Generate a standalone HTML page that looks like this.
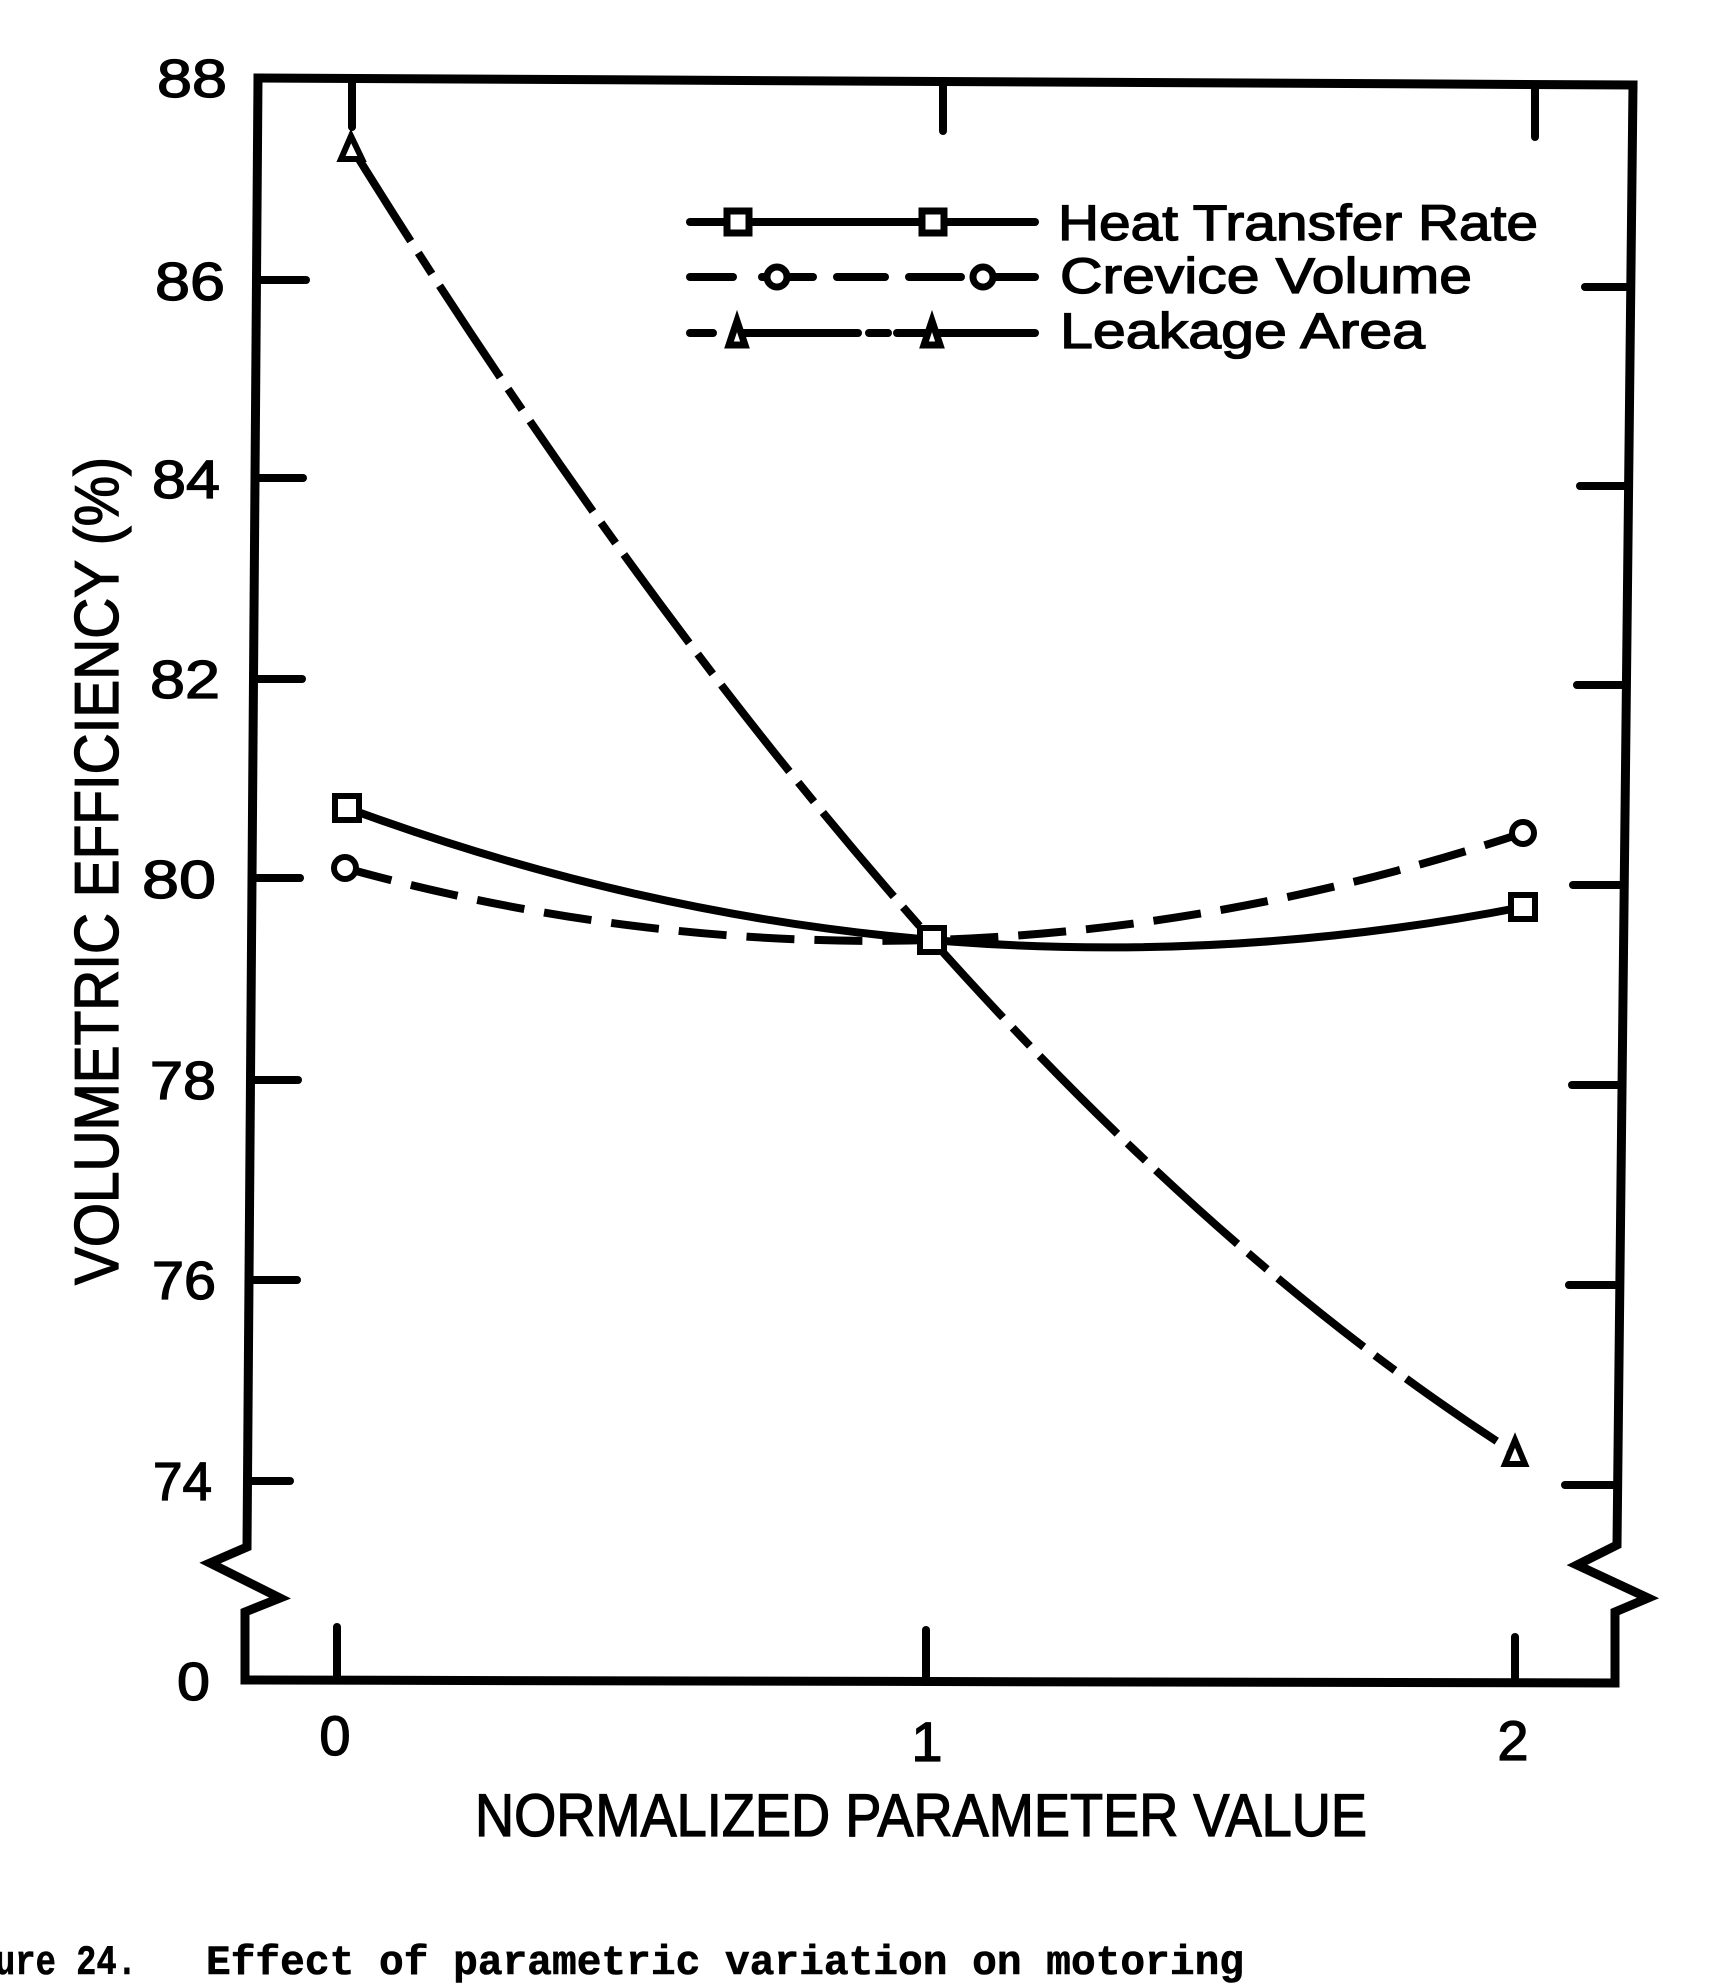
<!DOCTYPE html>
<html>
<head>
<meta charset="utf-8">
<style>
  html, body { margin:0; padding:0; background:#fff; }
  svg { display:block; }
  .t { font-family:"Liberation Sans", "DejaVu Sans", sans-serif; fill:#000; stroke:#000; stroke-width:1.3; }
  .cap { font-family:"Liberation Mono", "DejaVu Sans Mono", monospace; font-weight:bold; fill:#000; stroke:#000; stroke-width:0.6; white-space:pre; }
</style>
</head>
<body>
<svg width="1709" height="1987" viewBox="0 0 1709 1987" xmlns="http://www.w3.org/2000/svg">
  <rect x="0" y="0" width="1709" height="1987" fill="#fff"/>

  <!-- Axes frame -->
  <g stroke="#000" stroke-width="9" fill="none" stroke-linecap="square" stroke-linejoin="miter">
    <line x1="258" y1="78" x2="1633" y2="85"/>
    <polyline points="258,78 247,1547 210,1563 280,1598 245,1612 245,1680 1615,1683 1615,1612 1648,1598 1577,1565 1617,1545 1633,85"/>
  </g>

  <!-- Ticks -->
  <g stroke="#000" stroke-width="8" stroke-linecap="round" fill="none">
    <line x1="352" y1="78" x2="352" y2="127"/>
    <line x1="943" y1="82" x2="943" y2="131"/>
    <line x1="1535" y1="85" x2="1535" y2="137"/>
    <line x1="337" y1="1680" x2="337" y2="1627"/>
    <line x1="926" y1="1682" x2="926" y2="1630"/>
    <line x1="1515" y1="1683" x2="1515" y2="1637"/>
    <line x1="256" y1="280" x2="306" y2="280"/>
    <line x1="255" y1="478" x2="303" y2="478"/>
    <line x1="253" y1="679" x2="302" y2="679"/>
    <line x1="252" y1="878" x2="300" y2="878"/>
    <line x1="250" y1="1080" x2="298" y2="1080"/>
    <line x1="249" y1="1280" x2="297" y2="1280"/>
    <line x1="247" y1="1481" x2="290" y2="1481"/>
    <line x1="1631" y1="287" x2="1585" y2="287"/>
    <line x1="1629" y1="486" x2="1580" y2="486"/>
    <line x1="1626" y1="685" x2="1577" y2="685"/>
    <line x1="1624" y1="885" x2="1573" y2="885"/>
    <line x1="1622" y1="1085" x2="1572" y2="1085"/>
    <line x1="1620" y1="1285" x2="1569" y2="1285"/>
    <line x1="1617" y1="1485" x2="1565" y2="1485"/>
  </g>

  <!-- Y tick labels -->
  <g class="t" font-size="54">
    <text x="157" y="97" textLength="70" lengthAdjust="spacingAndGlyphs">88</text>
    <text x="155" y="300" textLength="70" lengthAdjust="spacingAndGlyphs">86</text>
    <text x="152" y="498" textLength="68" lengthAdjust="spacingAndGlyphs">84</text>
    <text x="150" y="698" textLength="70" lengthAdjust="spacingAndGlyphs">82</text>
    <text x="142" y="898" textLength="74" lengthAdjust="spacingAndGlyphs">80</text>
    <text x="150" y="1099" textLength="66" lengthAdjust="spacingAndGlyphs">78</text>
    <text x="152" y="1299" textLength="64" lengthAdjust="spacingAndGlyphs">76</text>
    <text x="153" y="1500" textLength="59" lengthAdjust="spacingAndGlyphs">74</text>
    <text x="177" y="1700" textLength="33" lengthAdjust="spacingAndGlyphs">0</text>
  </g>

  <!-- X tick labels -->
  <g class="t" font-size="56" text-anchor="middle">
    <text x="335" y="1755">0</text>
    <text x="927" y="1761">1</text>
    <text x="1513" y="1760">2</text>
  </g>

  <!-- Axis titles -->
  <text class="t" x="475" y="1836" font-size="60" textLength="892" lengthAdjust="spacingAndGlyphs">NORMALIZED PARAMETER VALUE</text>
  <text class="t" transform="translate(118,871) rotate(-90)" text-anchor="middle" font-size="62" textLength="828" lengthAdjust="spacingAndGlyphs">VOLUMETRIC EFFICIENCY (%)</text>

  <!-- Data curves -->
  <g fill="none" stroke="#000" stroke-width="8">
    <path d="M347,808 Q929,1022.5 1523,907"/>
    <path d="M345,868 Q930,1029.5 1523,833" stroke-dasharray="48 20"/>
    <path d="M352,148 Q930.5,1079.5 1515,1453" stroke-dasharray="110 14 25 14"/>
  </g>

  <!-- Data markers -->
  <g fill="#fff" stroke="#000" stroke-width="6">
    <rect x="335" y="796" width="24" height="24"/>
    <rect x="1511" y="895" width="24" height="24"/>
    <circle cx="345" cy="868" r="11"/>
    <circle cx="1523" cy="833" r="11"/>
    <polygon points="351,136 341,159 362,159"/>
    <polygon points="1515,1440 1505,1464 1525,1464"/>
    <rect x="920" y="928" width="24" height="24"/>
  </g>

  <!-- Legend lines -->
  <g fill="none" stroke="#000" stroke-width="8" stroke-linecap="round">
    <line x1="690" y1="222" x2="1035" y2="222"/>
    <line x1="690" y1="277" x2="733" y2="277"/>
    <line x1="762" y1="277" x2="813" y2="277"/>
    <line x1="837" y1="277" x2="885" y2="277"/>
    <line x1="909" y1="277" x2="961" y2="277"/>
    <line x1="982" y1="277" x2="1035" y2="277"/>
    <line x1="690" y1="333" x2="713" y2="333"/>
    <line x1="737" y1="333" x2="858" y2="333"/>
    <line x1="869" y1="333" x2="888" y2="333"/>
    <line x1="897" y1="333" x2="1035" y2="333"/>
  </g>
  <g fill="#fff" stroke="#000" stroke-width="7">
    <rect x="727" y="211" width="22" height="22"/>
    <rect x="922" y="211" width="22" height="22"/>
    <circle cx="777" cy="277" r="10"/>
    <circle cx="983" cy="277" r="10"/>
    <polygon points="737,321 729,345 745,345"/>
    <polygon points="932,321 924,345 940,345"/>
  </g>

  <!-- Legend text -->
  <g class="t" font-size="50">
    <text x="1058" y="240" textLength="480" lengthAdjust="spacingAndGlyphs">Heat Transfer Rate</text>
    <text x="1060" y="293" textLength="412" lengthAdjust="spacingAndGlyphs">Crevice Volume</text>
    <text x="1060" y="348" textLength="365" lengthAdjust="spacingAndGlyphs">Leakage Area</text>
  </g>

  <!-- Caption -->
  <text class="cap" x="-5" y="1974" font-size="42" textLength="142" lengthAdjust="spacingAndGlyphs">ure 24.</text>
  <text class="cap" x="206" y="1974" font-size="42" textLength="1038" lengthAdjust="spacingAndGlyphs">Effect of parametric variation on motoring</text>
</svg>
</body>
</html>
